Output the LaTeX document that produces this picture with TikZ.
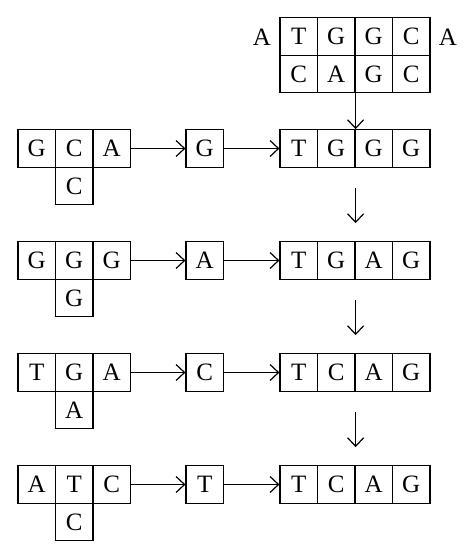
\documentclass[tikz,border=0pt]{standalone}
\usepackage{fontspec}
\setmainfont{Liberation Serif}
\usetikzlibrary{arrows.meta}
\begin{document}
\begin{tikzpicture}[x=1pt,y=-1pt,
  cell/.style={draw,line width=1.2pt,minimum width=37.5pt,minimum height=37.5pt,inner sep=0pt,
    font=\fontsize{25}{28}\selectfont},
  lab/.style={inner sep=0pt,font=\fontsize{25}{28}\selectfont},
  arr/.style={line width=1.2pt,-{Straight Barb[length=8.5pt,width=16pt,line width=1.2pt]}}]
\useasboundingbox (0,0) rectangle (474,560);
% top block
\foreach \t/\n [count=\k from 0] in {T/1,G/2,G/3,C/4}{
  \node[cell] (T1-\n) at (298.75+37.5*\k,36.5) {\t};}
\foreach \t/\n [count=\k from 0] in {C/1,A/2,G/3,C/4}{
  \node[cell] (T2-\n) at (298.75+37.5*\k,74) {\t};}
\node[lab] (AL) at (262,37) {A};
\node[lab] (AR) at (448,37) {A};
% rows
\foreach \r/\a/\b/\c/\d/\s/\e/\f/\g/\h in
  {0/G/C/A/C/G/T/G/G/G, 1/G/G/G/G/A/T/G/A/G, 2/T/G/A/A/C/T/C/A/G, 3/A/T/C/C/T/T/C/A/G}{
  \pgfmathsetmacro\yc{148.5+112*\r}
  \node[cell] (L\r-1) at (36.75,\yc) {\a};
  \node[cell] (L\r-2) at (74.25,\yc) {\b};
  \node[cell] (L\r-3) at (111.75,\yc) {\c};
  \node[cell] (D\r) at (74.25,\yc+37.5) {\d};
  \node[cell] (S\r) at (204.75,\yc) {\s};
  \node[cell] (R\r-1) at (298.75,\yc) {\e};
  \node[cell] (R\r-2) at (336.25,\yc) {\f};
  \node[cell] (R\r-3) at (373.75,\yc) {\g};
  \node[cell] (R\r-4) at (411.25,\yc) {\h};
  \draw[arr] (L\r-3.east) -- (S\r.west);
  \draw[arr] (S\r.east) -- (R\r-1.west);
}
\draw[arr] (T2-2.south east) -- (R0-2.north east);
\foreach \r [evaluate=\r as \n using int(\r+1)] in {0,1,2}{
  \draw[arr] ([yshift=-20pt]R\r-2.south east) -- ([yshift=18pt]R\n-2.north east);
}
\end{tikzpicture}
\end{document}
